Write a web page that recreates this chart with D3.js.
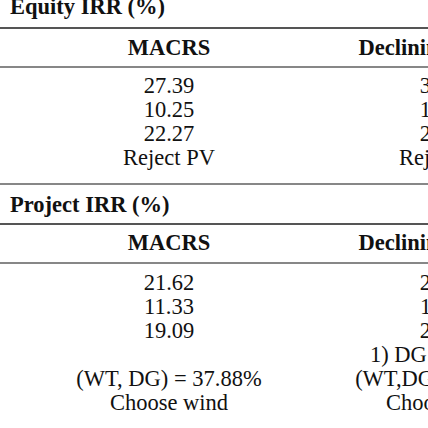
<!DOCTYPE html>
<html><head><meta charset="utf-8">
<script src="https://d3js.org/d3.v7.min.js"></script>
<style>body{margin:0;background:#fff}svg{display:block}</style>
</head><body>
<script>
const sections = ["Equity IRR (%)", "Project IRR (%)"];
const columns = ["MACRS", "Declining Balance"];
const equityMACRS = ["27.39", "10.25", "22.27", "Reject PV"];
const equityDB = ["32.61", "10.48", "24.15", "Reject PV"];
const projectMACRS = ["21.62", "11.33", "19.09", "", "(WT, DG) = 37.88%", "Choose wind"];
const projectDB = ["23.41", "11.52", "20.37", "1) DG = 35.10%", "(WT,DG) = 39.05%", "Choose wind"];

const W = 428, H = 428;
const svg = d3.select("body").append("svg").attr("width", W).attr("height", H);
const x = d3.scaleOrdinal().domain(columns).range([169, 445]);
const font = "'Liberation Serif', 'Times New Roman', serif";
const y = d3.scaleLinear().domain([0, 1]).range([0, 24]); // row step
const FS = 22.5;

function section(title, titleY, topLine, headY, headLine, rowY0, c1, c2, bottomLine) {
  svg.append("text").attr("x", 10).attr("y", titleY).text(title)
    .attr("font-family", font).attr("font-weight", "bold").attr("font-size", FS).attr("fill", "#111");
  svg.append("line").attr("x1", 0).attr("x2", W).attr("y1", topLine).attr("y2", topLine)
    .attr("stroke", "#555").attr("stroke-width", 2);
  svg.selectAll(null).data(columns).join("text").attr("x", d => x(d)).attr("y", headY)
    .attr("text-anchor", "middle").text(d => d)
    .attr("font-family", font).attr("font-weight", "bold").attr("font-size", FS).attr("fill", "#111");
  svg.append("line").attr("x1", 0).attr("x2", W).attr("y1", headLine).attr("y2", headLine)
    .attr("stroke", "#111").attr("stroke-width", 1.2);
  [[columns[0], c1], [columns[1], c2]].forEach(([col, vals]) => {
    svg.selectAll(null).data(vals).join("text").attr("x", x(col)).attr("y", (d, i) => rowY0 + y(i))
      .attr("text-anchor", "middle").text(d => d)
      .attr("font-family", font).attr("font-size", FS).attr("fill", "#111");
  });
  if (bottomLine) svg.append("line").attr("x1", 0).attr("x2", W).attr("y1", bottomLine).attr("y2", bottomLine)
    .attr("stroke", "#111").attr("stroke-width", 1.2);
}
section(sections[0], 14, 28, 55, 67, 93, equityMACRS, equityDB, 184);
section(sections[1], 212, 224, 250, 263, 290, projectMACRS, projectDB, null);
</script>
</body></html>
